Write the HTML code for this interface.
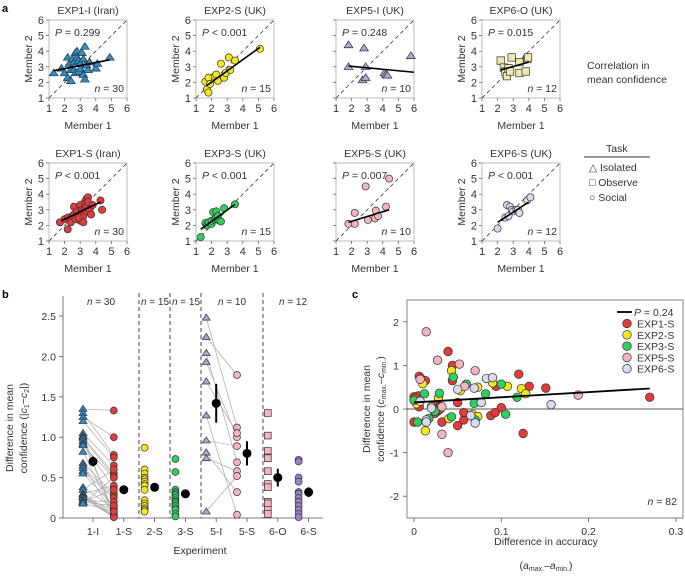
<!DOCTYPE html>
<html><head><meta charset="utf-8"><style>
body{margin:0;background:#fff}
svg{display:block;font-family:"Liberation Sans",sans-serif}
</style></head><body>
<svg id="fig" width="685" height="576" viewBox="0 0 685 576">
<text x="2" y="12" font-size="11" font-weight="bold">a</text>
<text x="2" y="298" font-size="11" font-weight="bold">b</text>
<text x="352" y="298" font-size="11" font-weight="bold">c</text>
<g font-size="10.5" fill="#333">
<text x="587" y="69">Correlation in</text><text x="587" y="83">mean confidence</text></g>
<g font-size="10.5" fill="#333">
<text x="606" y="152">Task</text>
<line x1="584" y1="157" x2="650" y2="157" stroke="#333" stroke-width="1"/>
<text x="589" y="171">△ Isolated</text><text x="589" y="186">□ Observe</text><text x="589" y="201">○ Social</text></g>
</svg>
<script>
const NS='http://www.w3.org/2000/svg';
const svg=document.getElementById('fig');
function mk(tag,at,parent){const e=document.createElementNS(NS,tag);for(const k in at)e.setAttribute(k,at[k]);(parent||svg).appendChild(e);return e;}
function tx(x,y,s,at,parent){const e=mk('text',Object.assign({x:x,y:y,'font-size':11,fill:'#333'},at||{}),parent);e.textContent=s;return e;}
function marker(shape,cx,cy,sz,fill,parent){
  let e;
  if(shape==='tri'){const h=sz*0.9;e=mk('polygon',{points:`${cx},${cy-h} ${cx-sz},${cy+h*0.7} ${cx+sz},${cy+h*0.7}`,fill:fill,stroke:'#333','stroke-width':0.7},parent);}
  else if(shape==='sq'){e=mk('rect',{x:cx-sz*0.85,y:cy-sz*0.85,width:sz*1.7,height:sz*1.7,fill:fill,stroke:'#333','stroke-width':0.7},parent);}
  else {e=mk('circle',{cx:cx,cy:cy,r:sz,fill:fill,stroke:'#333','stroke-width':0.7},parent);}
  return e;
}

/* ---------- panel a data ---------- */
const aTitles=['EXP1-I (Iran)','EXP2-S (UK)','EXP5-I (UK)','EXP6-O (UK)','EXP1-S (Iran)','EXP3-S (UK)','EXP5-S (UK)','EXP6-S (UK)'];
const aP=['= 0.299','< 0.001','= 0.248','= 0.015','< 0.001','< 0.001','= 0.007','< 0.001'];
const aN=[30,15,10,12,30,15,10,12];
const aShape=['tri','circ','tri','sq','circ','circ','circ','circ'];
const aColor=['#2b8fd0','#f4e81c','#a9a9d6','#eee7ae','#e23b3b','#2fcf5e','#f2b4be','#dadaee'];
const a1x=[1.3,1.8,2.0,2.2,2.2,2.3,2.4,2.4,2.5,2.6,2.6,2.7,2.7,2.8,2.8,2.9,2.9,3.0,3.0,3.1,3.2,3.2,3.3,3.3,3.4,3.5,3.6,4.0,4.1,4.9];
const a1y=[2.6,2.9,2.6,3.6,2.3,3.2,2.1,2.8,3.5,2.8,3.3,3.9,2.6,4.0,3.6,3.4,2.7,2.9,3.2,3.9,3.5,2.5,4.3,2.2,3.1,2.8,3.3,2.9,3.2,3.6];
const a2x=[1.6,1.7,1.8,1.8,1.9,2.2,2.3,2.4,2.6,2.8,2.9,3.1,3.2,3.5,5.1];
const a2y=[2.05,1.55,2.3,1.35,1.9,2.4,2.5,2.1,3.2,2.3,2.6,3.6,2.8,3.4,4.15];
const a3x=[1.8,1.8,2.8,2.7,2.9,2.9,4.1,4.2,4.3,5.8];
const a3y=[4.4,3.0,4.2,2.15,2.3,3.0,2.6,2.5,2.45,3.7];
const a4x=[2.2,2.4,2.5,2.6,2.7,2.8,2.9,3.4,3.4,3.8,3.9,3.95];
const a4y=[3.4,2.95,2.7,2.4,2.9,2.7,3.6,3.3,2.6,2.7,3.5,3.6];
const a5x=[1.7,2.0,2.2,2.2,2.4,2.5,2.6,2.6,2.7,2.8,2.9,3.0,3.0,3.1,3.1,3.2,3.3,3.3,3.4,3.4,3.4,3.5,3.5,3.6,3.7,3.8,2.9,3.2,4.3,4.4];
const a5y=[2.2,2.4,1.75,2.5,2.2,2.6,2.7,3.2,2.4,2.9,2.6,3.3,2.3,3.0,2.8,2.6,3.5,3.1,3.7,3.2,2.9,3.8,3.5,3.0,2.7,3.3,2.5,2.2,3.6,3.0];
const a6x=[1.3,1.6,1.7,1.8,2.0,2.0,2.1,2.2,2.3,2.3,2.4,2.5,2.6,2.8,3.5];
const a6y=[1.25,2.15,2.0,2.2,2.1,2.3,2.85,2.4,2.9,2.5,2.6,2.3,2.25,3.1,3.35];
const a7x=[1.8,2.2,2.2,2.9,3.05,3.5,3.55,3.7,4.2,4.4];
const a7y=[2.1,2.1,2.8,4.5,2.35,2.45,2.95,2.6,3.2,5.0];
const a8x=[2.0,2.5,2.6,2.7,2.8,2.9,3.0,3.2,3.3,3.4,3.9,4.1];
const a8y=[1.8,2.5,3.3,2.6,3.2,3.0,2.9,3.0,3.0,2.8,3.6,3.8];
const aXs=[a1x,a2x,a3x,a4x,a5x,a6x,a7x,a8x];
const aYs=[a1y,a2y,a3y,a4y,a5y,a6y,a7y,a8y];
const aFitX0=[1.3,1.7,1.8,2.2,1.8,1.3,1.8,2.0];
const aFitY0=[2.75,1.8,3.05,2.8,2.3,1.75,2.2,2.2];
const aFitX1=[4.9,5.1,6.0,4.0,4.3,3.5,4.4,4.0];
const aFitY1=[3.45,4.25,2.65,3.3,3.5,3.35,3.0,3.5];
const aTicks=[1,2,3,4,5,6];

const colX=[49,196,336,482], rowY=[20,163], W=78;
for(let p=0;p<8;p++){
  const c=p%4,r=Math.floor(p/4);
  const L=colX[c],T=rowY[r];
  const sx=v=>L+(v-1)/5*W, sy=v=>T+W-(v-1)/5*W;
  const g=mk('g',{});
  
  
  mk('rect',{x:L,y:T,width:W,height:W,fill:'none',stroke:'#aaa','stroke-width':0.8},g);
  mk('line',{x1:sx(1),y1:sy(1),x2:sx(6),y2:sy(6),stroke:'#333','stroke-width':0.8,'stroke-dasharray':'4,3'},g);
  aTicks.forEach(t=>{
    mk('line',{x1:sx(t),y1:T+W,x2:sx(t),y2:T+W+3,stroke:'#555','stroke-width':0.7},g);
    mk('line',{x1:L,y1:sy(t),x2:L-3,y2:sy(t),stroke:'#555','stroke-width':0.7},g);
    const xl=tx(sx(t),T+W+14,String(t),{'text-anchor':'middle','font-size':11},g);
    
    
    if(c!==2){const yl=tx(L-5,sy(t)+4,String(t),{'text-anchor':'end','font-size':11},g);
    
    }
  });
  const tt=tx(L+W/2,T-6,aTitles[p],{'text-anchor':'middle','font-size':10.5},g);
  
  
  const xt=tx(L+W/2,T+W+31,'Member 1',{'text-anchor':'middle','font-size':10.5},g);
  
  
  if(c!==2){const yt=tx(0,0,'Member 2',{'text-anchor':'middle','font-size':10.5,transform:`translate(${L-17},${T+W/2}) rotate(-90)`},g);
  
  }
  const pt=tx(L+6,T+16,'',{'font-size':10.5},g);
  pt.innerHTML='<tspan font-style="italic">P</tspan> '+aP[p].replace('<','&lt;');
  
  
  const nt=tx(L+W-3,T+W-6,'',{'font-size':10.5,'text-anchor':'end'},g);
  nt.innerHTML='<tspan font-style="italic">n</tspan> = '+aN[p];
  
  
  aXs[p].forEach((v,i)=>{const m=marker(aShape[p],sx(v),sy(aYs[p][i]),aShape[p]==='circ'?3.6:4.4,aColor[p],g);
    
    });
  const fl=mk('line',{x1:sx(aFitX0[p]),y1:sy(aFitY0[p]),x2:sx(aFitX1[p]),y2:sy(aFitY1[p]),stroke:'#000','stroke-width':1.6},g);
  
  
}

/* ---------- panel b data ---------- */
const bCats=['1-I','1-S','2-S','3-S','5-I','5-S','6-O','6-S'];
const b1I=[1.35,1.3,1.25,1.2,1.05,1.02,1.0,0.98,0.95,0.92,0.9,0.82,0.68,0.65,0.62,0.58,0.55,0.38,0.35,0.3,0.3,0.28,0.26,0.25,0.25,0.22,0.2,0.2,0.18,0.18];
const b1S=[1.33,0.78,1.0,0.75,0.65,0.02,0.55,0.52,0.08,0.37,0.5,0.05,0.3,0.03,0.28,0.25,0.15,0.12,0.6,0.05,0.4,0.03,0.02,0.01,0.1,0.2,0.35,0.15,0.08,0.5];
const b2S=[0.87,0.6,0.55,0.5,0.48,0.45,0.42,0.4,0.35,0.22,0.18,0.15,0.12,0.1,0.08];
const b3S=[0.73,0.57,0.35,0.32,0.3,0.28,0.25,0.22,0.2,0.18,0.15,0.12,0.1,0.05,0.02];
const b5I=[2.48,2.24,2.04,1.93,1.69,1.27,0.96,0.81,0.74,0.08];
const b5S=[1.12,1.77,0.69,1.0,1.05,0.04,0.89,0.32,0.58,0.52];
const b6O=[1.3,1.02,0.83,0.75,0.74,0.58,0.42,0.38,0.2,0.18,0.1,0.05];
const b6S=[0.72,0.7,0.5,0.45,0.32,0.3,0.25,0.2,0.15,0.1,0.05,0.01];
const bMean=[0.7,0.35,0.38,0.3,1.42,0.8,0.5,0.32];
const bErr=[0.06,0.05,0.05,0.04,0.24,0.15,0.11,0.06];
const bNs=['30','15','15','10','12'];
const bYTicks=[0,0.5,1.0,1.5,2.0,2.5];
const bVals=[b1I,b1S,b2S,b3S,b5I,b5S,b6O,b6S];
const bShape=['tri','circ','circ','circ','tri','circ','sq','circ'];
const bColor=['#2b8fd0','#e23b3b','#f4e81c','#2fcf5e','#a9a9d6','#f2b4be','#f2b4be','#9b80cc'];

const bL=63,bR=323,bB=518,bT=316;
const byS=v=>bB-(v/2.5)*(bB-bT);
const bxS=i=>93+i*30.8;
const gb=mk('g',{});


mk('line',{x1:bL,y1:296,x2:bL,y2:bB,stroke:'#555','stroke-width':0.8},gb);
mk('line',{x1:bL,y1:bB,x2:bR,y2:bB,stroke:'#555','stroke-width':0.8},gb);
bYTicks.forEach(t=>{mk('line',{x1:bL,y1:byS(t),x2:bL-4,y2:byS(t),stroke:'#555','stroke-width':0.8},gb);
  const l=tx(bL-7,byS(t)+4,t===0?'0':t.toFixed(1),{'text-anchor':'end','font-size':10.5},gb);
  
  });
bCats.forEach((cn,i)=>{mk('line',{x1:bxS(i),y1:bB,x2:bxS(i),y2:bB+4,stroke:'#555','stroke-width':0.8},gb);
  const l=tx(bxS(i),bB+17,cn,{'text-anchor':'middle','font-size':10.5},gb);
  
  });
[139,170,201,263].forEach(x=>mk('line',{x1:x,y1:293,x2:x,y2:bB,stroke:'#333','stroke-width':0.9,'stroke-dasharray':'4,3'},gb));
[101,155,186,232,293].forEach((x,i)=>{const l=tx(x,305,'',{'text-anchor':'middle','font-size':10},gb);
  l.innerHTML='<tspan font-style="italic">n</tspan> = '+bNs[i];
  
  });
const bxt=tx(200,554,'Experiment',{'text-anchor':'middle','font-size':10.5},gb);


const byt=mk('text',{'font-size':10.5,fill:'#333','text-anchor':'middle',transform:'translate(0,428) rotate(-90)'},gb);
byt.innerHTML='<tspan x="0" y="13">Difference in mean</tspan><tspan x="0" y="27">confidence (|<tspan font-style="italic">c</tspan><tspan font-size="7" dy="2">1</tspan><tspan dy="-2">−</tspan><tspan font-style="italic">c</tspan><tspan font-size="7" dy="2">2</tspan><tspan dy="-2">|)</tspan></tspan>';


[[0,1],[4,5]].forEach(([a,b])=>{bVals[a].forEach((v,i)=>{mk('line',{x1:bxS(a)-10,y1:byS(v),x2:bxS(b)-10,y2:byS(bVals[b][i]),stroke:'#aaa','stroke-width':0.7},gb);});});
bVals.forEach((arr,ci)=>arr.forEach(v=>{const m=marker(bShape[ci],bxS(ci)-10,byS(v),bShape[ci]==='circ'?3.5:4,bColor[ci],gb);
  
  }));
bMean.forEach((m,i)=>{mk('line',{x1:bxS(i),y1:byS(m-bErr[i]),x2:bxS(i),y2:byS(m+bErr[i]),stroke:'#000','stroke-width':2},gb);
  const c=mk('circle',{cx:bxS(i),cy:byS(m),r:4.5,fill:'#000'},gb);
  
  });

/* ---------- panel c data ---------- */
const cNames=['EXP1-S','EXP2-S','EXP3-S','EXP5-S','EXP6-S'];
const cColors=['#e23b3b','#f4e81c','#2fcf5e','#f2b4be','#dadaee'];
const c1x=[0,0.005,0.006,0.008,0.013,0.006,0,0.025,0.027,0.03,0.032,0.039,0.044,0.044,0.05,0.05,0.057,0.057,0.088,0.093,0.094,0.1,0.12,0.125,0.132,0.151,0.27,0.024,0.002,0.03];
const c1y=[0.28,0.3,0.75,0.7,0.65,0.05,-0.3,0.1,-0.05,0,-0.3,1.32,1.0,0.65,0.15,-0.38,-0.25,-0.08,-0.15,-0.08,0.52,0.03,0.8,-0.56,0.52,0.48,0.27,-0.1,0.25,0.05];
const c2x=[0.003,0.01,0.013,0.028,0.04,0.043,0.053,0.067,0.073,0.073,0.09,0.107,0.123,0.128,0.02];
const c2y=[0.12,0.58,-0.5,0.25,-0.22,0.88,0.42,-0.12,0.5,-0.17,0.6,0.52,0.47,0.35,0.05];
const c3x=[0,0.004,0.012,0.017,0.024,0.029,0.043,0.045,0.06,0.069,0.07,0.082,0.1,0.105,0.118];
const c3y=[0.2,-0.3,0.35,-0.22,-0.05,0.36,-0.18,0.73,0.57,0.13,-0.25,0.35,0.57,-0.12,0.27];
const c4x=[0.014,0.027,0.007,0.032,0.039,0.052,0.058,0.07,0.188,0.032];
const c4y=[1.77,1.12,0.68,-0.58,-1.0,1.03,0.52,0.88,0.32,0.05];
const c5x=[0.007,0.014,0.014,0.02,0.05,0.065,0.069,0.07,0.077,0.083,0.09,0.157];
const c5y=[0.18,-0.25,-0.3,0.02,0.45,-0.15,0.48,-0.32,0.15,0.7,0.72,0.1];
const cXs=[c1x,c2x,c3x,c4x,c5x], cYs=[c1y,c2y,c3y,c4y,c5y];
const cFit=[0,0.15,0.27,0.47];
const cXTicks=[0,0.1,0.2,0.3], cYTicks=[-2,-1,0,1,2];

const cxS=v=>414+v/0.1*87.3, cyS=v=>409-v*43.6;
const gc=mk('g',{});


mk('rect',{x:407,y:300,width:276,height:218,fill:'none',stroke:'#666','stroke-width':0.8},gc);
mk('line',{x1:407,y1:cyS(0),x2:683,y2:cyS(0),stroke:'#555','stroke-width':0.9},gc);
cXTicks.forEach(t=>{mk('line',{x1:cxS(t),y1:518,x2:cxS(t),y2:522,stroke:'#555','stroke-width':0.8},gc);
  const l=tx(cxS(t),535,t===0?'0':String(t),{'text-anchor':'middle','font-size':10.5},gc);
  
  });
cYTicks.forEach(t=>{mk('line',{x1:407,y1:cyS(t),x2:403,y2:cyS(t),stroke:'#555','stroke-width':0.8},gc);
  const l=tx(399,cyS(t)+4,String(t),{'text-anchor':'end','font-size':10.5},gc);
  
  });
const cxt=mk('text',{'font-size':10.5,fill:'#333','text-anchor':'middle'},gc);
cxt.innerHTML='<tspan x="546" y="545">Difference in accuracy</tspan><tspan x="546" y="569">(<tspan font-style="italic">a</tspan><tspan font-size="7" dy="2">max.</tspan><tspan dy="-2">–</tspan><tspan font-style="italic">a</tspan><tspan font-size="7" dy="2">min.</tspan><tspan dy="-2">)</tspan></tspan>';


const cyt=mk('text',{'font-size':10.5,fill:'#333','text-anchor':'middle',transform:'translate(357,409) rotate(-90)'},gc);
cyt.innerHTML='<tspan x="0" y="13">Difference in mean</tspan><tspan x="0" y="27">confidence (<tspan font-style="italic">c</tspan><tspan font-size="7" dy="2">max.</tspan><tspan dy="-2">–</tspan><tspan font-style="italic">c</tspan><tspan font-size="7" dy="2">min.</tspan><tspan dy="-2">)</tspan></tspan>';


cXs.forEach((arr,s)=>arr.forEach((v,i)=>{const m=marker('circ',cxS(v),cyS(cYs[s][i]),4.3,cColors[s],gc);
  
  }));
const cfl=mk('line',{x1:cxS(cFit[0]),y1:cyS(cFit[1]),x2:cxS(cFit[2]),y2:cyS(cFit[3]),stroke:'#000','stroke-width':1.8},gc);


mk('line',{x1:617,y1:312,x2:632,y2:312,stroke:'#000','stroke-width':1.8},gc);
const lp=tx(634,316,'',{'font-size':10.5},gc);
lp.innerHTML='<tspan font-style="italic">P</tspan> = 0.24';


cNames.forEach((n,i)=>{const y=323.5+i*11.3;
  const m=marker('circ',627,y,4.3,cColors[i],gc);
  
  
  const l=tx(637,y+4,n,{'font-size':10.5},gc);
  
  });
const cn=tx(677,505,'',{'font-size':10.5,'text-anchor':'end'},gc);
cn.innerHTML='<tspan font-style="italic">n</tspan> = 82';


</script>
</body></html>
